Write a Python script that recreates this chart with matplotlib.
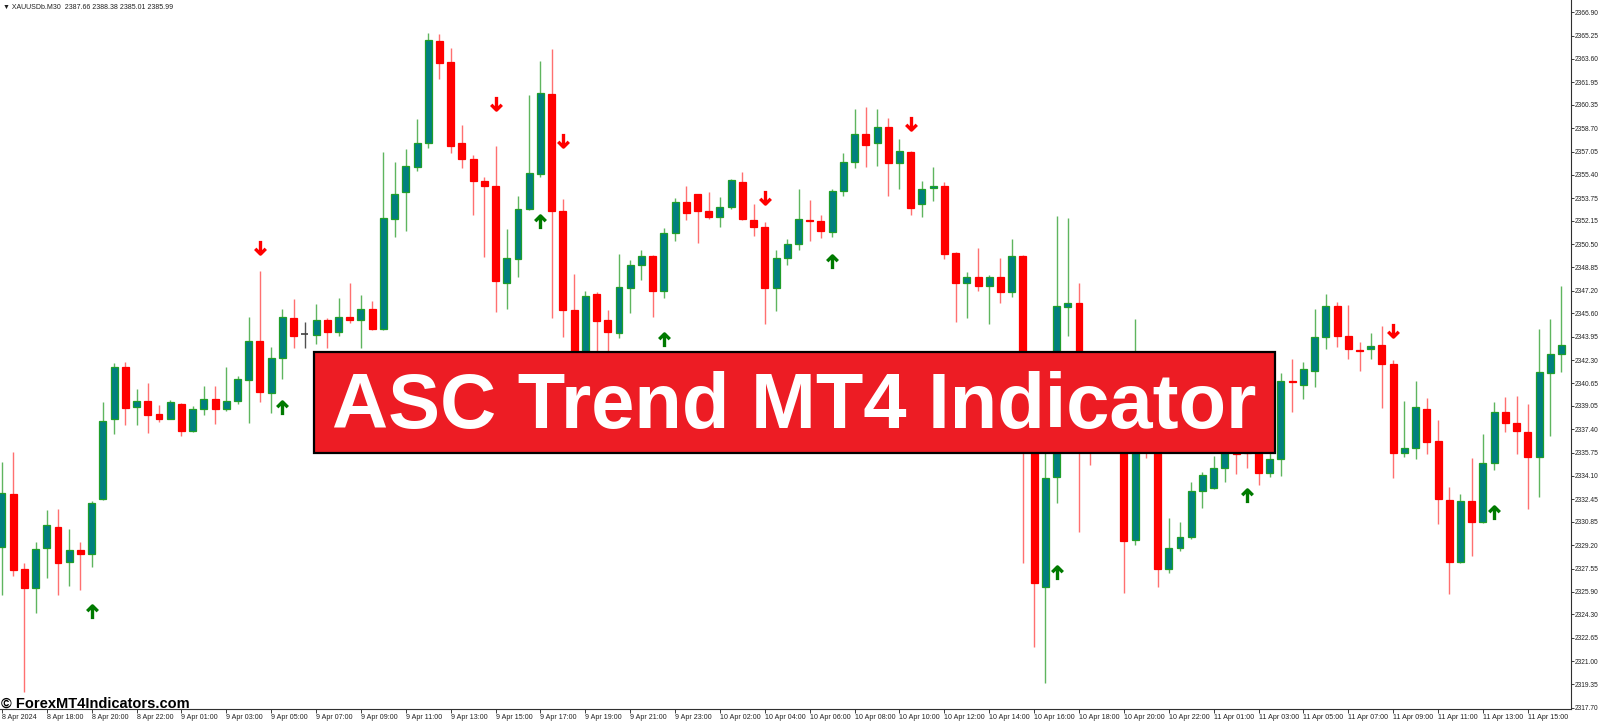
import numpy as np
import matplotlib.pyplot as plt
from matplotlib.path import Path
from matplotlib.patches import Rectangle

plt.rcParams['font.family'] = ['Liberation Sans', 'DejaVu Sans']

# XAUUSDb M30, бары с 8 Apr 16:00 по 11 Apr 16:30
opens = [2329.09, 2332.80, 2327.49, 2326.15, 2328.98, 2330.51, 2328.03, 2328.86, 2328.55, 2332.45,
         2338.11, 2341.78, 2338.95, 2339.40, 2338.46, 2338.15, 2339.19, 2337.30, 2338.81, 2339.54,
         2338.86, 2339.42, 2340.89, 2343.65, 2339.95, 2342.42, 2345.27, 2344.12, 2344.07, 2345.13,
         2344.30, 2345.32, 2345.13, 2345.91, 2344.49, 2352.30, 2354.21, 2355.98, 2357.63, 2364.85,
         2363.36, 2357.63, 2356.54, 2354.97, 2354.61, 2347.73, 2349.47, 2352.96, 2355.46, 2361.12,
         2352.86, 2345.84, 2340.74, 2346.97, 2345.13, 2344.19, 2347.37, 2349.02, 2349.66, 2347.20,
         2351.27, 2353.50, 2354.02, 2352.86, 2352.40, 2353.10, 2354.89, 2352.21, 2351.73, 2347.37,
         2349.54, 2350.49, 2352.21, 2352.16, 2351.38, 2354.28, 2356.33, 2358.29, 2357.63, 2358.76,
         2356.22, 2357.04, 2353.32, 2354.49, 2354.61, 2349.85, 2347.73, 2348.19, 2347.54, 2348.15,
         2347.09, 2349.68, 2336.64, 2326.22, 2334.04, 2346.07, 2346.36, 2338.06, 2336.64, 2338.76,
         2337.35, 2329.57, 2338.06, 2336.64, 2327.49, 2329.02, 2329.80, 2333.05, 2333.22, 2334.64,
         2336.29, 2335.93, 2335.79, 2334.28, 2335.28, 2340.82, 2340.53, 2341.52, 2343.91, 2346.14,
         2344.02, 2343.01, 2343.08, 2343.36, 2342.02, 2335.74, 2336.05, 2338.83, 2336.59, 2332.40,
         2327.99, 2332.35, 2330.86, 2335.03, 2338.64, 2337.87, 2337.23, 2335.42, 2341.36, 2342.70]
highs = [2335.11, 2335.77, 2327.92, 2329.45, 2331.69, 2331.74, 2330.32, 2329.40, 2332.33, 2339.31,
         2342.07, 2342.18, 2340.25, 2340.65, 2339.12, 2339.47, 2339.24, 2339.05, 2340.48, 2340.48,
         2341.78, 2341.19, 2345.36, 2348.60, 2343.24, 2345.89, 2346.62, 2345.01, 2346.26, 2345.25,
         2346.67, 2347.75, 2346.90, 2346.50, 2357.04, 2356.29, 2357.21, 2359.35, 2365.46, 2365.37,
         2364.35, 2358.93, 2356.81, 2355.27, 2357.44, 2351.55, 2353.90, 2361.05, 2363.46, 2364.30,
         2353.69, 2348.36, 2347.20, 2347.13, 2345.84, 2349.78, 2349.38, 2350.08, 2349.73, 2351.62,
         2353.74, 2354.61, 2354.07, 2354.21, 2353.81, 2355.13, 2355.58, 2353.34, 2352.09, 2350.08,
         2350.84, 2354.40, 2353.62, 2352.56, 2354.38, 2356.93, 2360.04, 2360.22, 2360.04, 2359.40,
         2357.92, 2357.11, 2354.96, 2355.93, 2354.92, 2349.96, 2348.55, 2350.25, 2348.31, 2349.50,
         2350.84, 2349.73, 2337.35, 2336.64, 2352.49, 2352.37, 2347.77, 2339.47, 2339.82, 2339.47,
         2338.76, 2345.20, 2338.76, 2337.35, 2331.10, 2330.86, 2333.69, 2334.40, 2335.51, 2337.35,
         2336.99, 2336.64, 2336.64, 2335.79, 2341.36, 2342.37, 2342.14, 2345.91, 2346.97, 2346.38,
         2346.19, 2343.60, 2344.19, 2344.71, 2342.30, 2339.40, 2340.84, 2339.63, 2338.06, 2333.29,
         2332.80, 2335.39, 2337.04, 2339.31, 2339.66, 2339.78, 2339.19, 2344.47, 2345.18, 2347.54]
lows = [2325.67, 2327.02, 2318.83, 2324.38, 2326.86, 2325.67, 2326.31, 2326.03, 2327.68, 2332.40,
        2337.07, 2337.70, 2337.70, 2337.16, 2337.94, 2338.11, 2336.95, 2337.23, 2338.41, 2337.75,
        2338.69, 2339.17, 2337.87, 2339.31, 2338.53, 2340.96, 2343.17, 2343.17, 2343.41, 2343.13,
        2344.00, 2344.94, 2343.17, 2344.42, 2344.42, 2351.02, 2351.45, 2355.69, 2357.28, 2362.18,
        2356.97, 2355.91, 2352.56, 2349.61, 2345.72, 2345.89, 2348.15, 2352.91, 2355.27, 2345.25,
        2343.91, 2339.61, 2339.82, 2341.45, 2342.16, 2343.84, 2345.65, 2347.96, 2345.36, 2346.71,
        2350.72, 2352.21, 2350.56, 2352.26, 2351.69, 2352.96, 2352.21, 2351.07, 2344.85, 2345.77,
        2349.02, 2350.08, 2350.74, 2350.91, 2350.98, 2353.90, 2355.86, 2355.93, 2356.03, 2353.93,
        2354.38, 2352.56, 2352.44, 2353.57, 2349.43, 2345.01, 2345.25, 2347.20, 2344.85, 2346.36,
        2346.78, 2327.94, 2321.97, 2319.43, 2332.20, 2344.00, 2330.15, 2334.87, 2336.29, 2336.64,
        2325.84, 2329.21, 2335.37, 2326.26, 2327.25, 2328.79, 2329.66, 2331.85, 2333.17, 2333.65,
        2334.21, 2334.64, 2333.44, 2334.00, 2334.12, 2338.64, 2339.54, 2340.37, 2343.06, 2343.20,
        2342.37, 2341.54, 2342.37, 2338.88, 2333.93, 2335.42, 2335.28, 2335.65, 2330.70, 2325.75,
        2327.94, 2328.46, 2330.75, 2334.52, 2337.23, 2335.65, 2331.74, 2332.63, 2336.95, 2341.47]
closes = [2332.87, 2327.44, 2326.15, 2328.93, 2330.63, 2327.92, 2328.86, 2328.55, 2332.20, 2338.01,
          2341.78, 2338.93, 2339.42, 2338.43, 2338.11, 2339.31, 2337.30, 2338.81, 2339.54, 2338.86,
          2339.40, 2340.94, 2343.67, 2340.06, 2342.42, 2345.32, 2344.02, 2344.12, 2345.13, 2344.26,
          2345.32, 2345.13, 2345.89, 2344.52, 2352.37, 2354.02, 2356.03, 2357.63, 2364.94, 2363.29,
          2357.44, 2356.54, 2354.99, 2354.61, 2347.91, 2349.50, 2352.98, 2355.51, 2361.17, 2352.84,
          2345.84, 2340.53, 2346.83, 2345.06, 2344.26, 2347.44, 2349.02, 2349.68, 2347.20, 2351.27,
          2353.46, 2352.72, 2352.86, 2352.44, 2353.10, 2355.04, 2352.26, 2351.73, 2347.42, 2349.50,
          2350.49, 2352.28, 2352.14, 2351.43, 2354.26, 2356.33, 2358.29, 2357.51, 2358.76, 2356.22,
          2357.09, 2353.08, 2354.40, 2354.61, 2349.80, 2347.73, 2348.19, 2347.54, 2348.15, 2347.09,
          2349.68, 2336.64, 2326.54, 2333.97, 2346.12, 2346.36, 2338.06, 2336.64, 2338.76, 2337.35,
          2329.50, 2338.06, 2336.64, 2327.49, 2329.02, 2329.80, 2333.05, 2334.14, 2334.64, 2336.64,
          2335.63, 2335.72, 2334.28, 2335.28, 2340.82, 2340.74, 2341.64, 2343.91, 2346.14, 2344.02,
          2343.08, 2342.96, 2343.31, 2342.02, 2335.74, 2336.05, 2338.95, 2336.48, 2332.45, 2328.03,
          2332.35, 2330.86, 2335.03, 2338.64, 2337.82, 2337.30, 2335.42, 2341.43, 2342.70, 2343.36]

# сигналы ASC Trend
up_bars = [8, 25, 48, 59, 74, 94, 111, 133]
up_prices = [2324.49, 2338.93, 2352.09, 2343.72, 2349.26, 2327.25, 2332.68, 2331.46]
down_bars = [23, 44, 50, 68, 81, 124]
down_prices = [2350.30, 2360.48, 2357.87, 2353.85, 2359.05, 2344.42]

# подписи осей
time_labels = ['8 Apr 2024', '8 Apr 18:00', '8 Apr 20:00', '8 Apr 22:00', '9 Apr 01:00',
               '9 Apr 03:00', '9 Apr 05:00', '9 Apr 07:00', '9 Apr 09:00', '9 Apr 11:00',
               '9 Apr 13:00', '9 Apr 15:00', '9 Apr 17:00', '9 Apr 19:00', '9 Apr 21:00',
               '9 Apr 23:00', '10 Apr 02:00', '10 Apr 04:00', '10 Apr 06:00', '10 Apr 08:00',
               '10 Apr 10:00', '10 Apr 12:00', '10 Apr 14:00', '10 Apr 16:00', '10 Apr 18:00',
               '10 Apr 20:00', '10 Apr 22:00', '11 Apr 01:00', '11 Apr 03:00', '11 Apr 05:00',
               '11 Apr 07:00', '11 Apr 09:00', '11 Apr 11:00', '11 Apr 13:00', '11 Apr 15:00']
price_ticks = [2366.90, 2365.25, 2363.60, 2361.95, 2360.35, 2358.70, 2357.05, 2355.40, 2353.75,
               2352.15, 2350.50, 2348.85, 2347.20, 2345.60, 2343.95, 2342.30, 2340.65, 2339.05,
               2337.40, 2335.75, 2334.10, 2332.45, 2330.85, 2329.20, 2327.55, 2325.90, 2324.30,
               2322.65, 2321.00, 2319.35, 2317.70]

o = np.array(opens)
h = np.array(highs)
l = np.array(lows)
c = np.array(closes)
x = np.arange(len(o))

fig = plt.figure(figsize=(16, 7.21), dpi=100)
ax = fig.add_axes([0, 1 - 709 / 721, 1571 / 1600, 709 / 721])

bull = c > o
bear = c < o
doji = c == o

# тени
ax.vlines(x[bull], l[bull], h[bull], color='#5fb55f', lw=1, zorder=1)
ax.vlines(x[bear], l[bear], h[bear], color='#ff7070', lw=1, zorder=1)
ax.vlines(x[doji], l[doji], h[doji], color='#505050', lw=1, zorder=1)

# тела свечей
w = 0.62
ax.bar(x[bull], c[bull] - o[bull], bottom=o[bull], width=w,
       color='#008080', edgecolor='#1f9e2a', lw=0.9, zorder=2)
ax.bar(x[bear], c[bear] - o[bear], bottom=o[bear], width=w,
       color='#ff0000', edgecolor='#ff0000', lw=0.9, zorder=2)
ax.hlines(o[doji], x[doji] - w / 2, x[doji] + w / 2, color='#404040', lw=1.2, zorder=2)

# стрелки индикатора
up_path = Path([(0, -1), (0, 1), (-0.8, 0.2), (0, 1), (0.8, 0.2)],
               [Path.MOVETO, Path.LINETO, Path.MOVETO, Path.LINETO, Path.LINETO])
down_path = Path([(0, 1), (0, -1), (-0.8, -0.2), (0, -1), (0.8, -0.2)],
                 [Path.MOVETO, Path.LINETO, Path.MOVETO, Path.LINETO, Path.LINETO])
ax.plot(up_bars, up_prices, linestyle='none', marker=up_path, markersize=9.5,
        mfc='none', mec='#007a00', mew=2.4, zorder=3)
ax.plot(down_bars, down_prices, linestyle='none', marker=down_path, markersize=9.5,
        mfc='none', mec='#ff0000', mew=2.4, zorder=3)

ax.set_xlim(-0.17, 139.85)
ax.set_ylim(2317.61, 2367.77)

for s in ['top', 'left']:
    ax.spines[s].set_visible(False)
for s in ['right', 'bottom']:
    ax.spines[s].set_color('#303030')
    ax.spines[s].set_linewidth(0.8)

ax.yaxis.tick_right()
ax.set_yticks(price_ticks)
ax.set_yticklabels([f'{v:.2f}' for v in price_ticks])
ax.tick_params(axis='y', length=2, width=0.6, pad=1, labelsize=4.8, colors='#202020')

ax.set_xticks(x[::4][:len(time_labels)])
ax.set_xticklabels(time_labels)
ax.tick_params(axis='x', length=3, width=0.6, pad=0.8, labelsize=5.1, colors='#202020')
for lab in ax.get_xticklabels():
    lab.set_horizontalalignment('left')

# заголовок графика
fig.text(3 / 1600, 1 - 7 / 721, '▼ XAUUSDb.M30  2387.66 2388.38 2385.01 2385.99',
         fontsize=5, color='#202020', va='center', ha='left')

# баннер
banner = Rectangle((314 / 1600, 1 - 453 / 721), 961 / 1600, 101 / 721,
                   transform=fig.transFigure, facecolor='#ed1c24',
                   edgecolor='black', lw=1.6, zorder=10)
fig.patches.append(banner)
fig.text(794 / 1600, 1 - 428.5 / 721, 'ASC Trend MT4 Indicator', fontsize=56,
         fontweight='bold', color='white', ha='center', va='baseline', zorder=11)

# водяной знак
fig.text(1 / 1600, 1 - 708 / 721, '© ForexMT4Indicators.com', fontsize=10.5,
         fontweight='bold', color='black', ha='left', va='baseline', zorder=11)

plt.savefig('out.png', dpi=100)
